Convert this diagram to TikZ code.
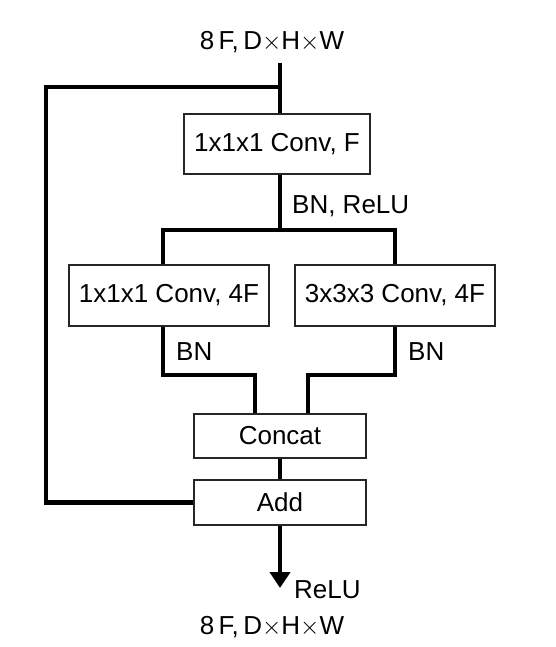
\documentclass[tikz,border=0pt]{standalone}
\usepackage{fontspec}
\setmainfont{Liberation Sans}
\usetikzlibrary{arrows.meta}
\begin{document}
\begin{tikzpicture}[x=1pt,y=-1pt,
  every node/.style={font=\fontsize{26}{30}\selectfont},
  box/.style={draw=black!85, line width=1.2pt, minimum height=#1, inner sep=0pt, anchor=center},
  conn/.style={line width=4.6pt, line join=miter},
  lbl/.style={inner sep=0pt, anchor=base west}]
\useasboundingbox (0,0) rectangle (556,647);
% boxes
\node[box=60pt, minimum width=186pt] (b1) at (277,144) {1x1x1 Conv, F};
\node[box=61pt, minimum width=200pt] (b2) at (169,295.5) {1x1x1 Conv, 4F};
\node[box=61pt, minimum width=200pt] (b3) at (395,295.5) {3x3x3 Conv, 4F};
\node[box=44pt, minimum width=172pt] (cat) at (280,436) {Concat};
\node[box=45pt, minimum width=172pt] (add) at (280,502.5) {Add};
% texts
\node[inner sep=0pt, anchor=base] (tin) at (272,50) {8\,F,\,D$\times$H$\times$W};
\node[inner sep=0pt, anchor=base] (tout) at (272,634) {8\,F,\,D$\times$H$\times$W};
\node[lbl] (l1) at (292,213) {BN, ReLU};
\node[lbl] (l2) at (176,360) {BN};
\node[lbl] (l3) at (408,360) {BN};
\node[lbl] (l4) at (294,598) {ReLU};
% coordinates
\coordinate (top) at (280,63);
\coordinate (sk) at (46,87);
\coordinate (L) at (163,230);
\coordinate (R) at (395,230);
\coordinate (ml) at (255,375);
\coordinate (mr) at (308,375);
\coordinate (out) at (280,588);
% connectors
\draw[conn] (top) -- (b1.north -| top);
\draw[conn] (sk -| top) -- (sk) |- (add.west);
\draw[conn] (b1.south -| top) -- (top |- L);
\draw[conn] (b2.north -| L) -- (L) -- (R) -- (b3.north -| R);
\draw[conn] (b2.south -| L) |- (ml) -- (cat.north -| ml);
\draw[conn] (b3.south -| R) |- (mr) -- (cat.north -| mr);
\draw[conn] (cat.south -| top) -- (add.north -| top);
\draw[conn, -{Triangle[length=16pt,width=20pt]}] (add.south -| top) -- (out);
\end{tikzpicture}
\end{document}
